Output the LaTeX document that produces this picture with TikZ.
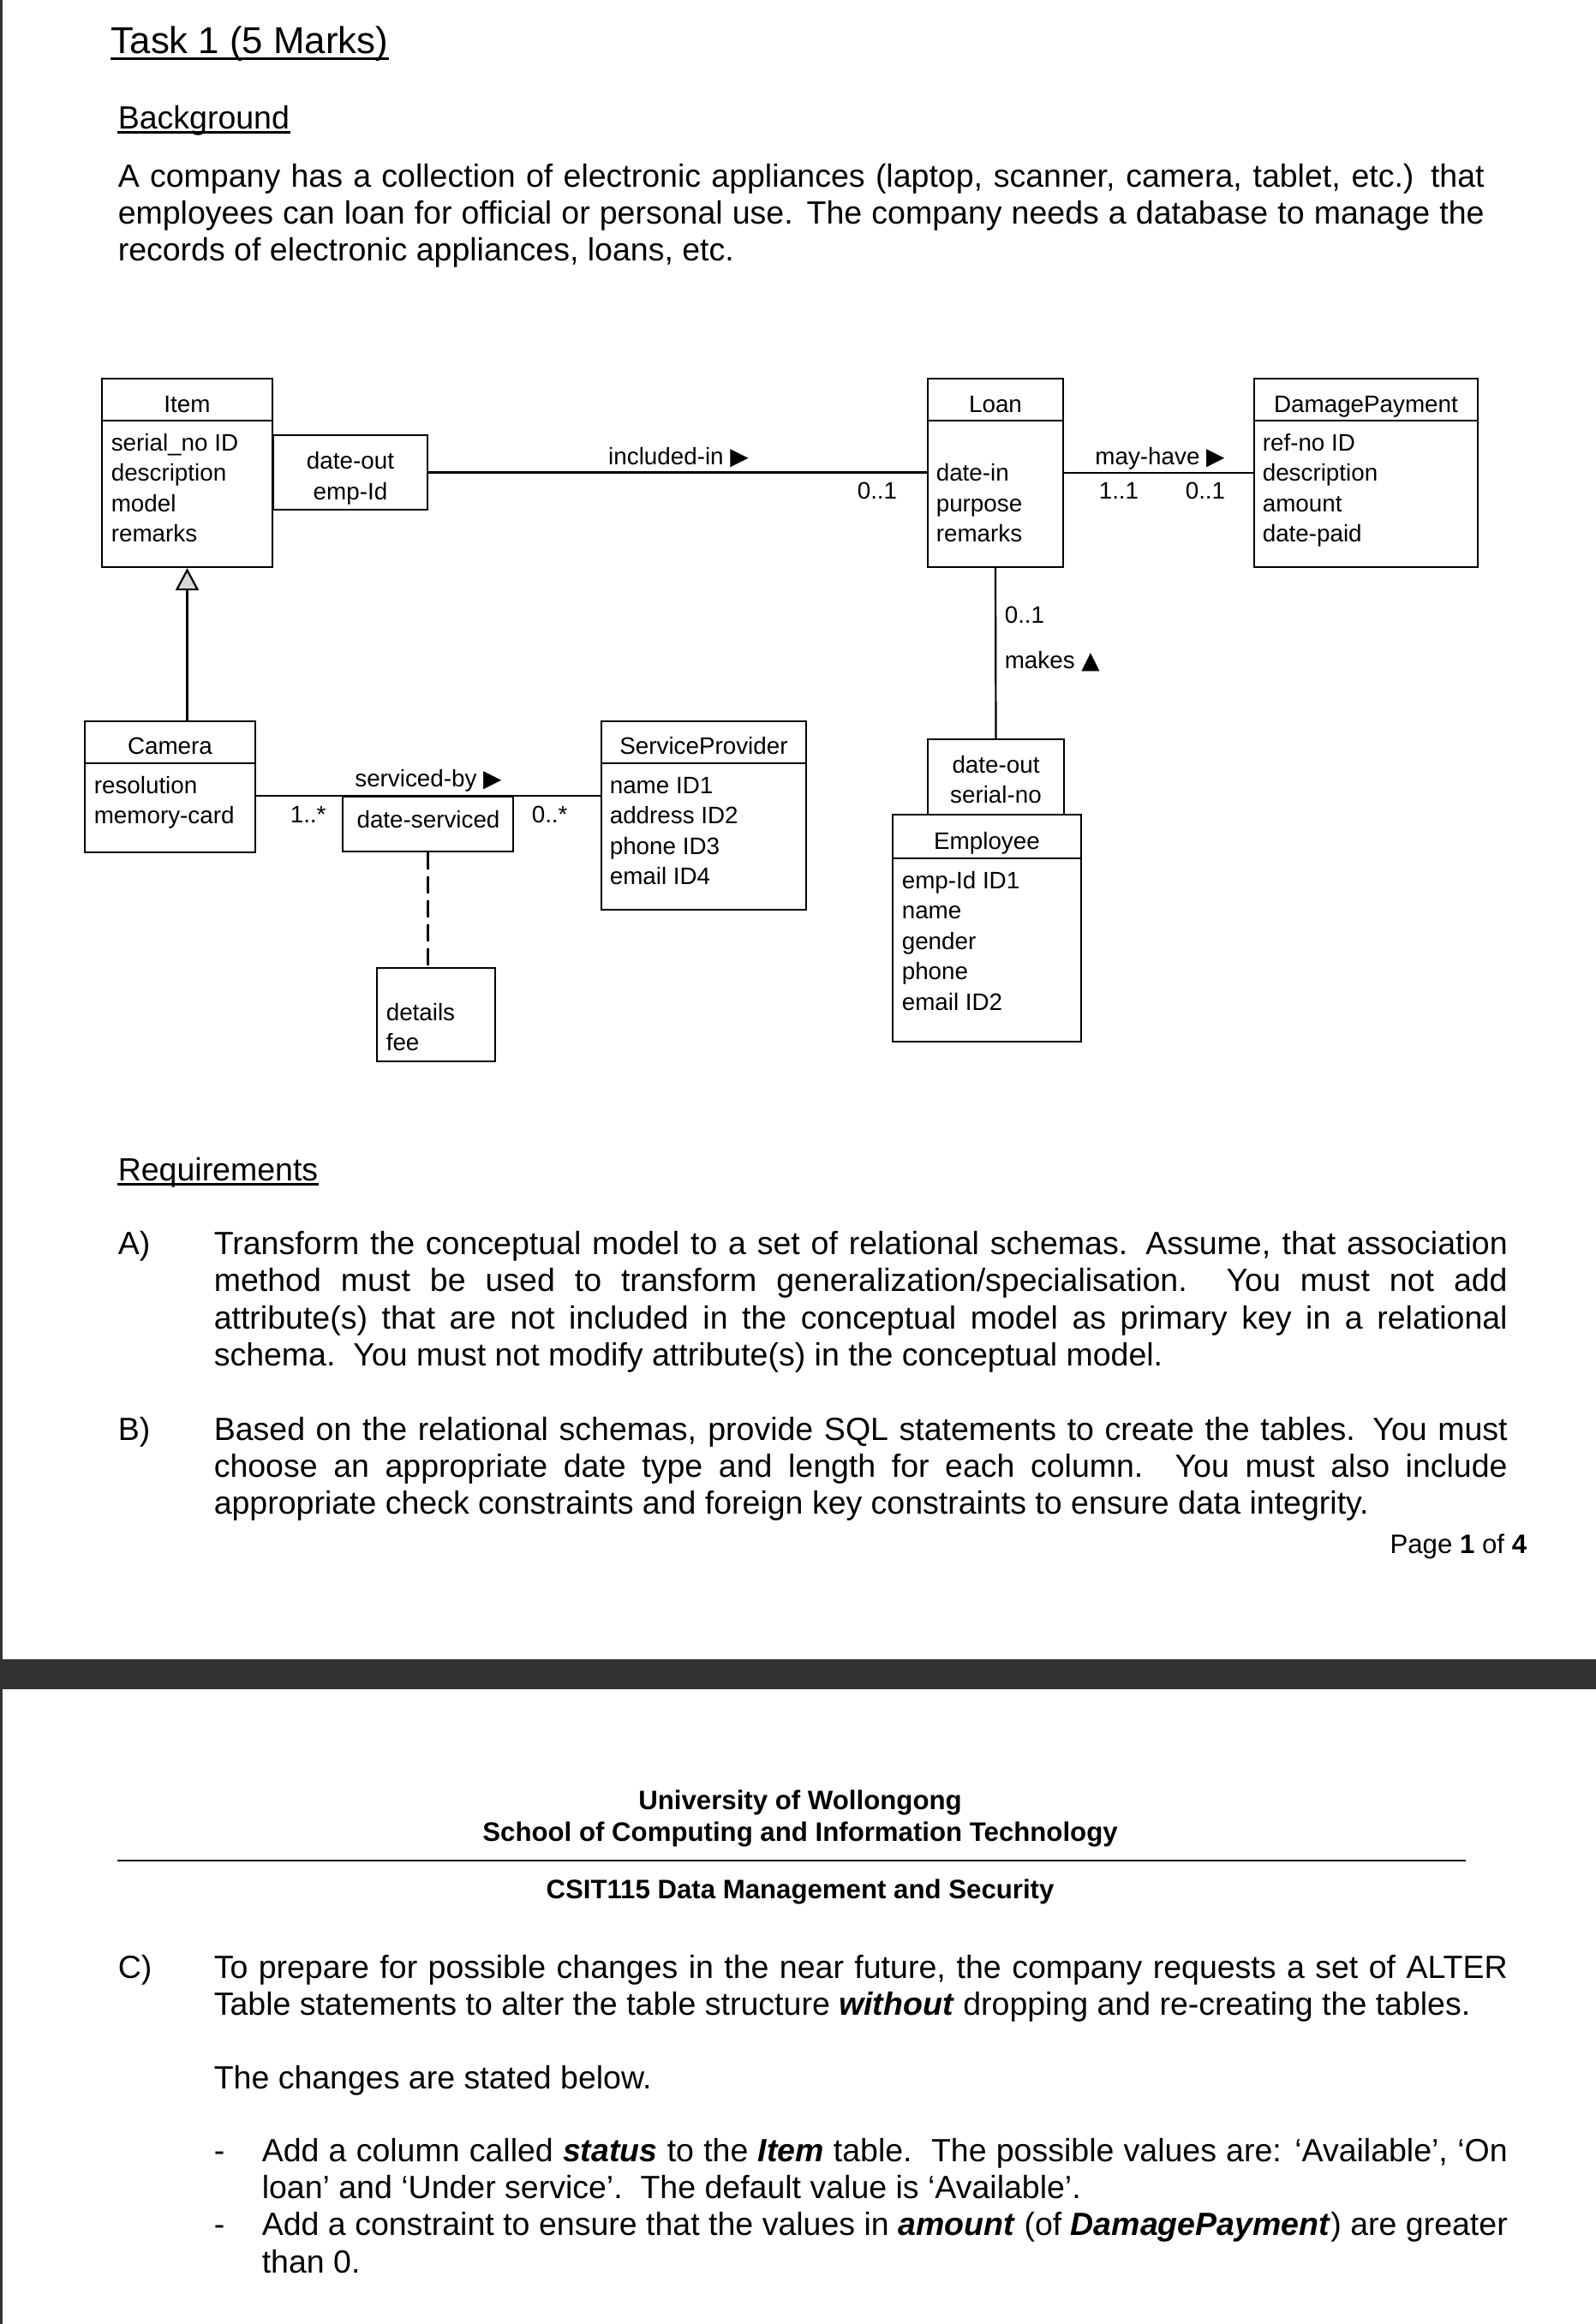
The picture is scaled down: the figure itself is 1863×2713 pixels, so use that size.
\documentclass[tikz,border=0pt]{standalone}
\usepackage{fontspec}
\setmainfont{Liberation Sans}
\newfontfamily\symfont{DejaVu Sans}
\usetikzlibrary{arrows.meta,fit}

\newcommand{\bodyfont}{\fontsize{9.375pt}{10.75pt}\selectfont}
\newcommand{\titlefont}{\fontsize{10.94pt}{12.5pt}\selectfont}
\newcommand{\smallfont}{\fontsize{7.8pt}{9pt}\selectfont}
\newcommand{\umlfont}{\fontsize{6.95pt}{8.9pt}\selectfont}
\newcommand{\bi}[1]{\textbf{\textit{#1}}}
\newcommand{\jline}[2]{\makebox[#1][s]{#2}}
\newcommand{\tri}[1]{{\symfont #1}}

\begin{document}
\begin{tikzpicture}[x=0.25pt, y=-0.25pt,
    bodytxt/.style={inner sep=0, anchor=base west, font=\bodyfont},
    umlbox/.style={draw, line width=0.6pt, inner sep=0},
    umlline/.style={line width=0.55pt},
    umlattr/.style={inner sep=0, anchor=base west, font=\umlfont},
    umlname/.style={inner sep=0, anchor=base, font=\umlfont}]
    % Define colours
    \definecolor{barColour}{HTML}{323232}
    \definecolor{fillColour}{HTML}{D8D8D8}

    % Page size
    \useasboundingbox (0,0) rectangle (1863,2713);
    \fill[white] (0,0) rectangle (1863,2713);
    \fill[barColour] (0,0) rectangle (3,2713);
    \fill[barColour] (0,1937) rectangle (1863,1972);

    % Heading and background
    \node[bodytxt, font=\titlefont] (task) at (129,62) {Task 1 (5 Marks)};
    \draw[line width=0.7pt] ([yshift=-1.6pt]task.base west) -- ([yshift=-1.6pt]task.base east);
    \node[bodytxt] (bgHead) at (137,150) {Background};
    \draw[line width=0.55pt] ([yshift=-1.1pt]bgHead.base west) -- ([yshift=-1.1pt]bgHead.base east);
    \node[bodytxt] (bg1) at (137,218) {\jline{398.75pt}{A company has a collection of electronic appliances (laptop, scanner, camera, tablet, etc.) that}};
    \node[bodytxt] (bg2) at (137,261) {\jline{398.75pt}{employees can loan for official or personal use. The company needs a database to manage the}};
    \node[bodytxt] (bg3) at (137,304) {records of electronic appliances, loans, etc.};

    % Class boxes
    \node[umlbox, fit={(119,442) (318,662)}] (item) {};
    \node[umlbox, fit={(1083,442) (1241,662)}] (loan) {};
    \node[umlbox, fit={(1464,442) (1725,662)}] (dmg) {};
    \node[umlbox, fit={(99,842) (298,995)}] (camera) {};
    \node[umlbox, fit={(702,842) (941,1062)}] (sp) {};
    \node[umlbox, fit={(1042,951) (1262,1216)}] (emp) {};
    \foreach \c in {item,loan,dmg,camera,sp}
        \draw[umlline] ([yshift=-12.5pt]\c.north west) -- ([yshift=-12.5pt]\c.north east);
    \draw[umlline] ([yshift=-13pt]emp.north west) -- ([yshift=-13pt]emp.north east);

    % Class names
    \node[umlname] (itemName) at (218.5,481) {Item};
    \node[umlname] (loanName) at (1162,481) {Loan};
    \node[umlname] (dmgName) at (1594.5,481) {DamagePayment};
    \node[umlname] (cameraName) at (198.5,880) {Camera};
    \node[umlname] (spName) at (821.5,880) {ServiceProvider};
    \node[umlname] (empName) at (1152,991) {Employee};

    % Attributes
    \foreach \a [count=\i] in {serial\_no ID, description, model, remarks}
        \node[umlattr] (item-\i) at (129,{526+35.5*(\i-1)}) {\a};
    \foreach \a [count=\i] in {date-in, purpose, remarks}
        \node[umlattr] (loan-\i) at (1092,{561.5+35.5*(\i-1)}) {\a};
    \foreach \a [count=\i] in {ref-no ID, description, amount, date-paid}
        \node[umlattr] (dmg-\i) at (1473,{526+35.5*(\i-1)}) {\a};
    \foreach \a [count=\i] in {resolution, memory-card}
        \node[umlattr] (camera-\i) at (109,{926+35.5*(\i-1)}) {\a};
    \foreach \a [count=\i] in {name ID1, address ID2, phone ID3, email ID4}
        \node[umlattr] (sp-\i) at (711,{926+35.5*(\i-1)}) {\a};
    \foreach \a [count=\i] in {emp-Id ID1, name, gender, phone, email ID2}
        \node[umlattr] (emp-\i) at (1052,{1037+35.5*(\i-1)}) {\a};

    % Association boxes
    \node[umlbox, fit={(319,508) (499,595)}] (doutA) {};
    \node[umlname] (doutA-1) at (409,547) {date-out};
    \node[umlname] (doutA-2) at (409,583) {emp-Id};
    \node[umlbox, fit={(1083,863) (1242,951)}] (doutB) {};
    \node[umlname] (doutB-1) at (1162.5,902) {date-out};
    \node[umlname] (doutB-2) at (1162.5,937) {serial-no};
    \node[umlbox, fit={(400,930) (599,994)}] (dserv) {};
    \node[umlname] (dserv-1) at (500,966) {date-serviced};
    \node[umlbox, fit={(440,1130) (578,1239)}] (details) {};
    \node[umlattr] (details-1) at (450,1191) {details};
    \node[umlattr] (details-2) at (450,1226) {fee};

    % Associations
    \draw[umlline] (doutA.east) -- (doutA.east -| loan.west);
    \node[umlname] (inclLbl) at (792,542) {included-in \tri{▶}};
    \node[umlattr] (inclMult) at (1000,582) {0..1};
    \draw[umlline] (loan.east) -- (dmg.west);
    \node[umlname] (mayLbl) at (1354,542) {may-have \tri{▶}};
    \node[umlattr] (mayMultA) at (1282,582) {1..1};
    \node[umlattr] (mayMultB) at (1383,582) {0..1};
    \draw[umlline] (camera.east |- dserv.north) -- (sp.west |- dserv.north);
    \node[umlname] (servLbl) at (500,918) {serviced-by \tri{▶}};
    \node[umlattr] (servMultA) at (338,960) {1..*};
    \node[umlattr] (servMultB) at (620,960) {0..*};
    \draw[umlline, dash pattern=on 5pt off 2pt] (dserv.south) -- (dserv.south |- details.north);
    \draw[umlline] (loan.south) -- (doutB.north);
    \node[umlattr] (makesMult) at (1172,727) {0..1};
    \node[umlattr] (makesLbl) at (1172,780) {makes \tri{▲}};

    % Generalisation
    \draw[umlline, -{Triangle[length=6.5pt, width=6.8pt, fill=fillColour]}] (camera.north -| item.south) -- (item.south);

    % Requirements
    \node[bodytxt] (reqHead) at (137,1378) {Requirements};
    \draw[line width=0.55pt] ([yshift=-1.1pt]reqHead.base west) -- ([yshift=-1.1pt]reqHead.base east);
    \node[bodytxt] (reqA) at (137,1464) {A)};
    \node[bodytxt] (reqA1) at (249,1464) {\jline{377.5pt}{Transform the conceptual model to a set of relational schemas. Assume, that association}};
    \node[bodytxt] (reqA2) at (249,1507) {\jline{377.5pt}{method must be used to transform generalization/specialisation.\ \ You must not add}};
    \node[bodytxt] (reqA3) at (249,1551) {\jline{377.5pt}{attribute(s) that are not included in the conceptual model as primary key in a relational}};
    \node[bodytxt] (reqA4) at (249,1594) {schema.\ \ You must not modify attribute(s) in the conceptual model.};
    \node[bodytxt] (reqB) at (137,1681) {B)};
    \node[bodytxt] (reqB1) at (249,1681) {\jline{377.5pt}{Based on the relational schemas, provide SQL statements to create the tables. You must}};
    \node[bodytxt] (reqB2) at (249,1724) {\jline{377.5pt}{choose an appropriate date type and length for each column.\ \ You must also include}};
    \node[bodytxt] (reqB3) at (249,1767) {appropriate check constraints and foreign key constraints to ensure data integrity.};
    \node[inner sep=0, anchor=base east, font=\smallfont] (pageNo) at (1783,1813) {Page \textbf{1} of \textbf{4}};

    % Next page header
    \node[inner sep=0, anchor=base, font=\smallfont\bfseries] (uni) at (934,2112) {University of Wollongong};
    \node[inner sep=0, anchor=base, font=\smallfont\bfseries] (school) at (934,2149) {School of Computing and Information Technology};
    \coordinate (ruleL) at (137,2172);
    \coordinate (ruleR) at (1711,2172);
    \draw[line width=0.6pt] (ruleL) -- (ruleR);
    \node[inner sep=0, anchor=base, font=\smallfont\bfseries] (subject) at (934,2216) {CSIT115 Data Management and Security};

    % Part C
    \node[bodytxt] (reqC) at (137,2309) {C)};
    \node[bodytxt] (reqC1) at (249,2309) {\jline{377.5pt}{To prepare for possible changes in the near future, the company requests a set of ALTER}};
    \node[bodytxt] (reqC2) at (249,2352) {Table statements to alter the table structure \bi{without} dropping and re-creating the tables.};
    \node[bodytxt] (reqC3) at (249,2438) {The changes are stated below.};
    \node[bodytxt] (dashA) at (249,2523) {-};
    \node[bodytxt] (chgA1) at (305,2523) {\jline{363.5pt}{Add a column called \bi{status} to the \bi{Item} table.\ \ The possible values are: ‘Available’, ‘On}};
    \node[bodytxt] (chgA2) at (305,2566) {loan’ and ‘Under service’.\ \ The default value is ‘Available’.};
    \node[bodytxt] (dashB) at (249,2609) {-};
    \node[bodytxt] (chgB1) at (305,2609) {\jline{363.5pt}{Add a constraint to ensure that the values in \bi{amount} (of \bi{DamagePayment}) are greater}};
    \node[bodytxt] (chgB2) at (305,2653) {than 0.};
\end{tikzpicture}
\end{document}
